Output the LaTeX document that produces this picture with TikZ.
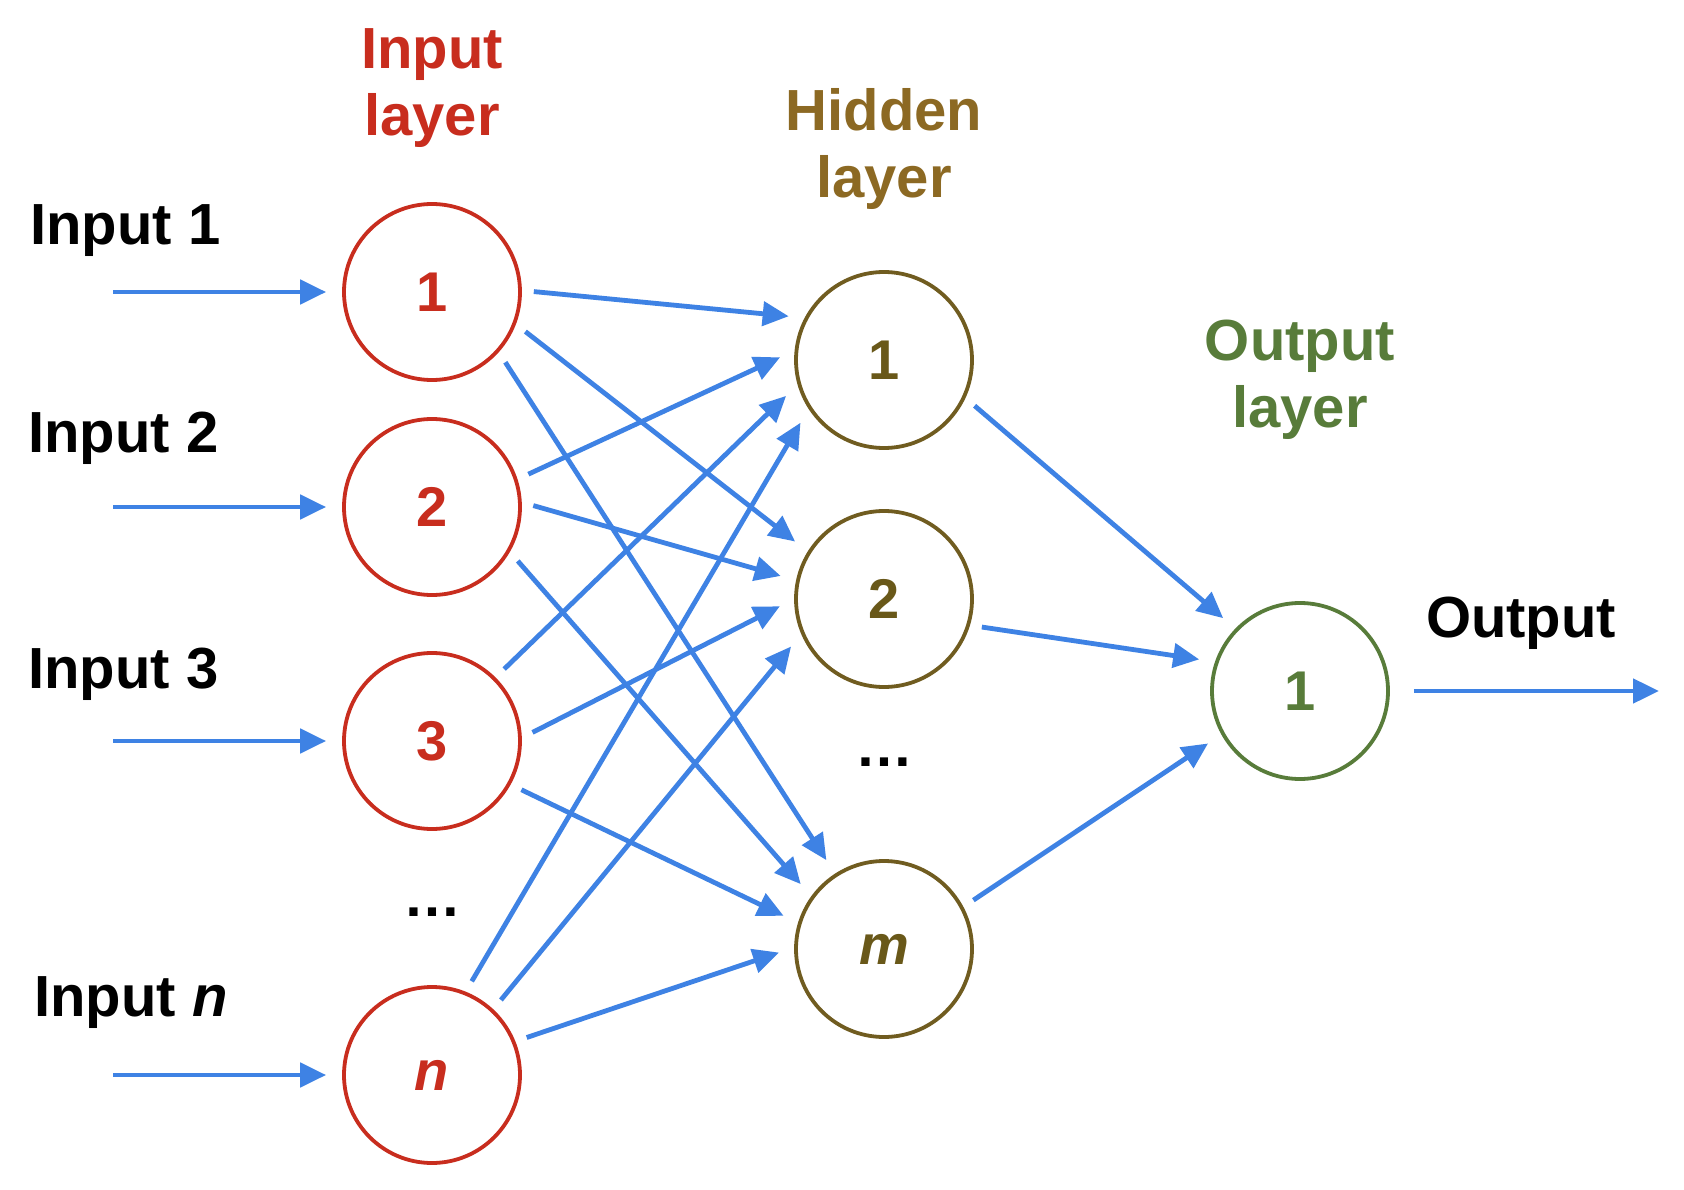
\documentclass[tikz,border=0pt]{standalone}
\usepackage{fontspec}
\setmainfont{Liberation Sans}
\usetikzlibrary{arrows.meta}
\definecolor{inred}{RGB}{200,45,30}
\definecolor{hidtext}{RGB}{140,105,35}
\definecolor{hidcirc}{RGB}{112,92,32}
\definecolor{hidnum}{RGB}{105,88,25}
\definecolor{outgreen}{RGB}{88,124,58}
\definecolor{arrowblue}{RGB}{62,130,228}
\begin{document}
\begin{tikzpicture}[x=1pt,y=-1pt,
  neuron/.style={circle, draw, line width=3.8pt, minimum size=176pt, inner sep=0pt,
    font=\fontsize{56}{60}\selectfont\bfseries},
  innode/.style={neuron, draw=inred, text=inred},
  hidnode/.style={neuron, draw=hidcirc, text=hidnum},
  outnode/.style={neuron, draw=outgreen, text=outgreen},
  conn/.style={draw=arrowblue, line width=4.8pt, -{Triangle[length=26pt,width=24pt]},
    shorten <=12pt, shorten >=16pt},
  lbl/.style={font=\fontsize{58}{67}\selectfont\bfseries, inner sep=0pt, align=center},
  dots/.style={font=\fontsize{58}{60}\selectfont\bfseries, inner sep=0pt},
]
\useasboundingbox (0,0) rectangle (1684,1190);
\fill[white] (0,0) rectangle (1684,1190);

% neurons
\node[innode] (i1) at (432,292) {1};
\node[innode] (i2) at (432,507) {2};
\node[innode] (i3) at (432,741) {3};
\node[innode] (in) at (432,1075) {\itshape n};
\node[hidnode] (h1) at (884,360) {1};
\node[hidnode] (h2) at (884,599) {2};
\node[hidnode] (hm) at (884,949) {\itshape m};
\node[outnode] (o1) at (1300,691) {1};

% dots
\node[dots] (d1) at (432,912) {…};
\node[dots] (d2) at (884,762) {…};

% layer titles
\node[lbl, text=inred] (tin) at (432,88) {Input\\layer};
\node[lbl, text=hidtext] (thid) at (884,149) {Hidden\\layer};
\node[lbl, text=outgreen] (tout) at (1300,380) {Output\\layer};

% input / output labels
\node[lbl, anchor=west] (l1) at (30,231) {Input 1};
\node[lbl, anchor=west] (l2) at (28,438) {Input 2};
\node[lbl, anchor=west] (l3) at (28,674) {Input 3};
\node[lbl, anchor=west] (ln) at (34,1003) {Input \textit{n}};
\node[lbl] (lo) at (1521,623) {Output};

% input arrows
\coordinate (s1) at (113,292);
\coordinate (s2) at (113,507);
\coordinate (s3) at (113,741);
\coordinate (sn) at (113,1075);
\draw[conn, shorten <=0pt] (s1) -- (i1.180);
\draw[conn, shorten <=0pt] (s2) -- (i2.180);
\draw[conn, shorten <=0pt] (s3) -- (i3.180);
\draw[conn, shorten <=0pt] (sn) -- (in.180);

% input -> hidden
\draw[conn] (i1.1) -- (h1.152);
\draw[conn] (i1.-21) -- (h2.148);
\draw[conn] (i1.-42) -- (hm.123);
\draw[conn] (i2.18) -- (h1.174);
\draw[conn] (i2.3) -- (h2.168);
\draw[conn] (i2.-30) -- (hm.144);
\draw[conn] (i3.45) -- (h1.-164);
\draw[conn] (i3.2) -- (h2.180);
\draw[conn] (i3.-29) -- (hm.163);
\draw[conn] (in.68) -- (h1.-147);
\draw[conn] (in.47) -- (h2.-157);
\draw[conn] (in.22) -- (hm.179);

% hidden -> output
\draw[conn] (h1.-25) -- (o1.136);
\draw[conn] (h2.-17) -- (o1.161);
\draw[conn] (hm.28) -- (o1.-151);

% output arrow
\coordinate (e1) at (1659,691);
\draw[conn, shorten <=24pt, shorten >=0pt] (o1.0) -- (e1);
\end{tikzpicture}
\end{document}
